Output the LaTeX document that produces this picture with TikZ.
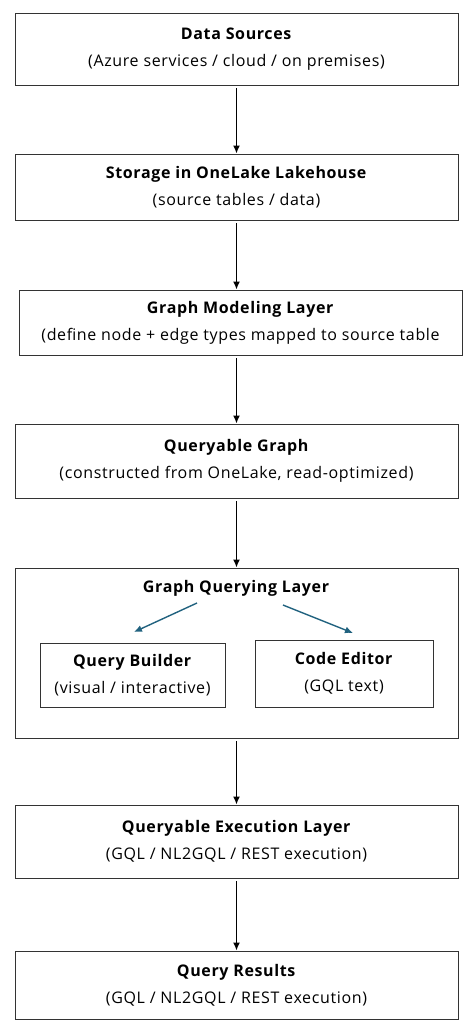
\documentclass[tikz,border=0pt]{standalone}
\usepackage{fontspec}
\setmainfont{Open Sans}
\usetikzlibrary{arrows.meta,calc,positioning}
\definecolor{qblue}{HTML}{21627F}
\tikzset{every picture/.style={
  >={Latex[length=8pt,width=7pt]}  % filled arrow tips.
  }
}

\begin{document}
\begin{tikzpicture}[
    x=1pt,y=-1pt,
    layer/.style={
      draw=black!80,
      line width=0.8pt,
      minimum width=443pt,
      inner sep=0pt,
      align=center,
      font=\fontsize{16}{27}\selectfont\addfontfeature{LetterSpace=4}
    },
    part/.style={layer,minimum width=0pt},
    flow/.style={->,line width=1.6pt,shorten <=3pt},
    branch/.style={->,qblue,line width=1.4pt}]

    % Keep the page the size of the reference.
    \useasboundingbox (0,0) rectangle (474,1035);

    % Helper macro: bold heading over a plain line.
    \def\hd#1#2{\textbf{#1}\\#2}

    % The stack of layers.
    \node[layer,minimum height=72pt] (src) at (236.5,49)
      {\hd{Data Sources}{(Azure services / cloud / on premises)}};
    \node[layer,minimum height=66pt] (lake) at (236.5,187)
      {\hd{Storage in OneLake Lakehouse}{(source tables / data)}};
    \node[layer,minimum height=65pt] (model) at (240.5,322.5)
      {\hd{Graph Modeling Layer}{(define node + edge types mapped to source table}};
    \node[layer,minimum height=74pt] (graph) at (236.5,461)
      {\hd{Queryable Graph}{(constructed from OneLake, read-optimized)}};
    \node[layer,minimum height=170pt] (query) at (236.5,653) {};
    \node[layer,minimum height=73pt] (exec) at (236.5,841.5)
      {\hd{Queryable Execution Layer}{(GQL / NL2GQL / REST execution)}};
    \node[layer,minimum height=68pt] (res) at (236.5,985)
      {\hd{Query Results}{(GQL / NL2GQL / REST execution)}};

    % Inside the querying layer.
    \node[font=\fontsize{16}{27}\selectfont\addfontfeature{LetterSpace=4}\bfseries]
      (qtitle) at (236,588) {Graph Querying Layer};
    \node[part,minimum width=185pt,minimum height=64pt] (qb) at (132.5,675)
      {\hd{Query Builder}{(visual / interactive)}};
    \node[part,minimum width=178pt,minimum height=67pt] (ce) at (344,673.5)
      {\hd{Code Editor}{(GQL text)}};
    \coordinate (qbtip) at (134,632);
    \coordinate (cetip) at (353,633);
    \coordinate (qbtail) at (197,603);
    \coordinate (cetail) at (283,605);
    \draw[branch] (qbtail) -- (qbtip);
    \draw[branch] (cetail) -- (cetip);

    % Arrows down the stack, all on one vertical line.
    \draw[flow] (src.south) -- (lake.north);
    \draw[flow] (lake.south) -- (lake.south |- model.north);
    \draw[flow] (graph.north |- model.south) -- (graph.north);
    \draw[flow] (graph.south) -- (query.north);
    \draw[flow] (query.south) -- (exec.north);
    \draw[flow] (exec.south) -- (res.north);
  \end{tikzpicture}
\end{document}
